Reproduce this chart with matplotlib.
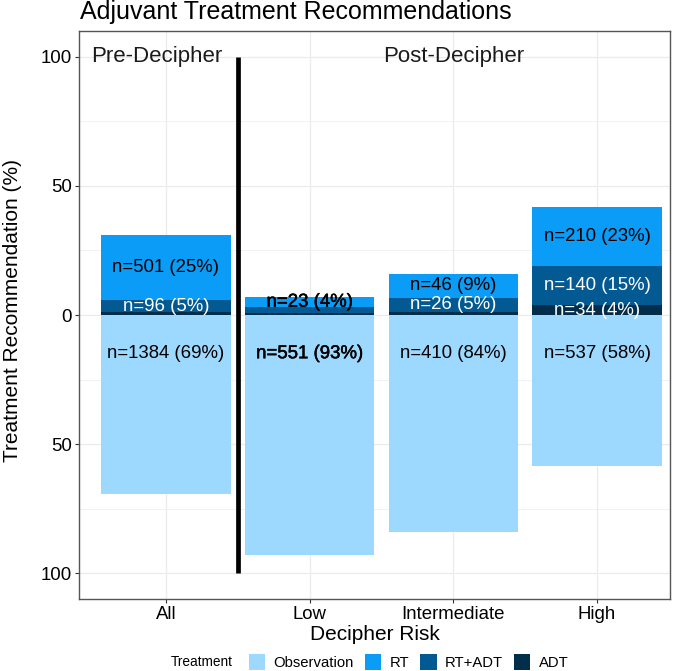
import matplotlib
matplotlib.use("Agg")
import matplotlib.pyplot as plt
import matplotlib.patheffects as pe
from matplotlib.patches import Patch
import numpy as np

plt.rcParams['font.family'] = ['Liberation Sans', 'DejaVu Sans']

categories = ["All", "Low", "Intermediate", "High"]
n_observation = [1384, 551, 410, 537]
n_rt = [501, 23, 46, 210]
n_rt_adt = [96, 13, 26, 140]
n_adt = [20, 5, 6, 34]

treatments = ["Observation", "RT", "RT+ADT", "ADT"]
colors = {"Observation": "#9DD9FE", "RT": "#0A9CF6", "RT+ADT": "#035A92", "ADT": "#022E4C"}
text_colors = {"Observation": "black", "RT": "black", "RT+ADT": "white", "ADT": "white"}

W, H = 685, 671
fig = plt.figure(figsize=(W / 100, H / 100), dpi=100)
L, R, T, B = 79, 670, 31, 599
ax = fig.add_axes([L / W, 1 - B / H, (R - L) / W, (B - T) / H])

x = np.arange(1, len(categories) + 1)
obs = np.array(n_observation, float)
rt = np.array(n_rt, float)
rtadt = np.array(n_rt_adt, float)
adt = np.array(n_adt, float)
total = obs + rt + rtadt + adt
p_obs = obs / total * 100
p_rt = rt / total * 100
p_rtadt = rtadt / total * 100
p_adt = adt / total * 100

w = 0.9
ax.bar(x, -p_obs, width=w, color=colors["Observation"], zorder=2)
ax.bar(x, p_adt, width=w, bottom=0, color=colors["ADT"], zorder=2)
ax.bar(x, p_rtadt, width=w, bottom=p_adt, color=colors["RT+ADT"], zorder=2)
ax.bar(x, p_rt, width=w, bottom=p_adt + p_rtadt, color=colors["RT"], zorder=2)

fs_lab = 13.4
def label(xi, yi, n, p, col, bold=False):
    t = ax.text(xi, yi, f"n={int(n)} ({p:.0f}%)", ha="center", va="center",
                fontsize=fs_lab, color=col, zorder=4)
    if bold:
        t.set_path_effects([pe.withStroke(linewidth=0.35, foreground=col)])

for i in range(len(categories)):
    bold = categories[i] == "Low"
    label(x[i], -15, obs[i], p_obs[i], text_colors["Observation"], bold)
    segs = [("ADT", adt[i], p_adt[i], 0),
            ("RT+ADT", rtadt[i], p_rtadt[i], p_adt[i]),
            ("RT", rt[i], p_rt[i], p_adt[i] + p_rtadt[i])]
    for name, n, p, b in segs:
        if p >= 3:
            label(x[i], b + p / 2, n, p, text_colors[name], bold)

ax.plot([1.5, 1.5], [-100, 100], color="black", lw=3.4, solid_capstyle="butt", zorder=3)
ax.text(0.94, 100, "Pre-Decipher", ha="center", va="center", fontsize=16, color="#1a1a1a", zorder=4)
ax.text(3.0, 100, "Post-Decipher", ha="center", va="center", fontsize=16, color="#1a1a1a", zorder=4)

ax.set_xlim(0.396, 4.507)
ax.set_ylim(-110, 110)
ax.set_xticks(x)
ax.set_xticklabels(categories)
yt = [-100, -50, 0, 50, 100]
ax.set_yticks(yt)
ax.set_yticklabels([str(abs(v)) for v in yt])
ax.set_yticks([-75, -25, 25, 75], minor=True)
ax.tick_params(axis="both", which="major", labelsize=13.4, length=3, width=0.8,
               color="#333333", labelcolor="black", pad=2)
ax.tick_params(axis="y", which="minor", length=0)
ax.grid(True, which="major", color="#EBEBEB", lw=0.9, zorder=0)
ax.grid(True, which="minor", axis="y", color="#EBEBEB", lw=0.5, zorder=0)
ax.set_axisbelow(True)
for s in ax.spines.values():
    s.set_color("#555555")
    s.set_linewidth(1.0)

fig.text(80 / W, 1 - 12 / H, "Adjuvant Treatment Recommendations", fontsize=18,
         ha="left", va="center")
fig.text((L + R) / 2 / W, 1 - 634 / H, "Decipher Risk", fontsize=15, ha="center", va="center")
fig.text(13 / W, 1 - 310 / H, "Treatment Recommendation (%)", fontsize=15,
         ha="center", va="center", rotation=90)

fig.text(171 / W, 1 - 662 / H, "Treatment", fontsize=9.8, ha="left", va="center")
handles = [Patch(facecolor=colors[t], edgecolor="none", label=t) for t in treatments]
fig.legend(handles=handles, loc="center left", bbox_to_anchor=(249 / W, 1 - 662 / H),
           ncol=4, frameon=False, fontsize=10.7, handlelength=1.1, handleheight=1.3,
           handletextpad=0.55, columnspacing=0.75, borderpad=0, borderaxespad=0)

fig.savefig("out.png", dpi=100)
